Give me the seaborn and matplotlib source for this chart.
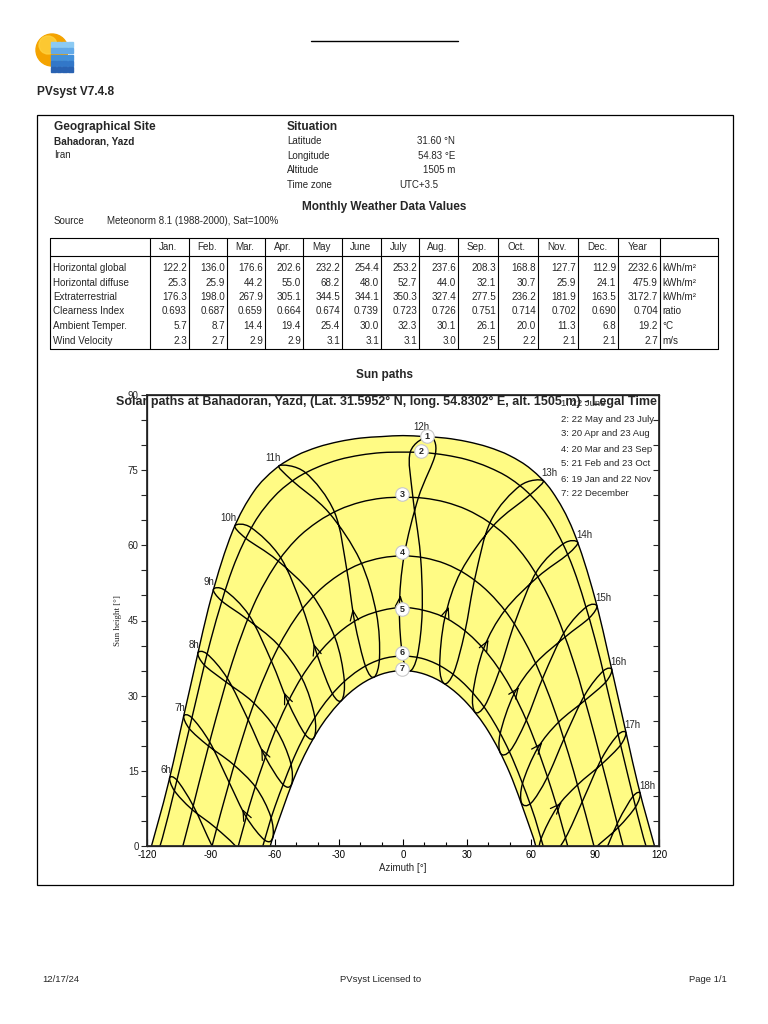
import numpy as np
import matplotlib
matplotlib.use('Agg')
import matplotlib.pyplot as plt
import seaborn as sns
from matplotlib.path import Path
from matplotlib.patches import PathPatch, Circle, Rectangle

# ---- sun path data (azimuth, sun height in degrees) ----
jun22_az = [-117.9, -110, -100, -90, -80, -70, -60, -50, -40, -30, -20, -10, 0,
            10, 20, 30, 40, 50, 60, 70, 80, 90, 100, 110, 117.9]
jun22_alt = [0, 12.5, 31.2, 49.4, 62.7, 70.7, 75.2, 77.9, 79.6, 80.7, 81.4, 81.7, 81.9,
             81.7, 81.4, 80.7, 79.6, 77.9, 75.2, 70.7, 62.7, 49.4, 31.2, 12.5, 0]
may22_az = [-113.9, -110, -100, -90, -80, -70, -60, -50, -40, -30, -20, -10, 0,
            10, 20, 30, 40, 50, 60, 70, 80, 90, 100, 110, 113.9]
may22_alt = [0, 6.1, 23.7, 41.3, 55.2, 64.3, 69.9, 73.4, 75.6, 77.1, 78.0, 78.5, 78.6,
             78.5, 78.0, 77.1, 75.6, 73.4, 69.9, 64.3, 55.2, 41.3, 23.7, 6.1, 0]
apr20_az = [-103.2, -100, -90, -80, -70, -60, -50, -40, -30, -20, -10, 0,
            10, 20, 30, 40, 50, 60, 70, 80, 90, 100, 103.2]
apr20_alt = [0, 5.2, 21.8, 36.7, 48.1, 55.9, 61.2, 64.7, 67.1, 68.6, 69.4, 69.6,
             69.4, 68.6, 67.1, 64.7, 61.2, 55.9, 48.1, 36.7, 21.8, 5.2, 0]
mar20_az = [-89.5, -80, -70, -60, -50, -40, -30, -20, -10, 0,
            10, 20, 30, 40, 50, 60, 70, 80, 89.5]
mar20_alt = [0, 14.9, 28.3, 38.4, 45.7, 50.7, 54.1, 56.3, 57.5, 57.9,
             57.5, 56.3, 54.1, 50.7, 45.7, 38.4, 28.3, 14.9, 0]
feb21_az = [-77.2, -70, -60, -50, -40, -30, -20, -10, 0, 10, 20, 30, 40, 50, 60, 70, 77.2]
feb21_alt = [0, 10.8, 22.9, 31.9, 38.2, 42.6, 45.5, 47.0, 47.6, 47.0, 45.5, 42.6, 38.2, 31.9, 22.9, 10.8, 0]
jan19_az = [-65.7, -60, -50, -40, -30, -20, -10, 0, 10, 20, 30, 40, 50, 60, 65.7]
jan19_alt = [0, 7.9, 18.7, 26.5, 31.8, 35.3, 37.3, 37.9, 37.3, 35.3, 31.8, 26.5, 18.7, 7.9, 0]
dec22_az = [-62.2, -60, -50, -40, -30, -20, -10, 0, 10, 20, 30, 40, 50, 60, 62.2]
dec22_alt = [0, 3.0, 14.6, 22.9, 28.5, 32.2, 34.3, 35.0, 34.3, 32.2, 28.5, 22.9, 14.6, 3.0, 0]

# hour lines: sun position at each legal hour on
# 19 Jan, 21 Feb, 20 Mar, 20 Apr, 22 May, 22 Jun, 23 Jul, 23 Aug, 23 Sep, 23 Oct, 22 Nov, 22 Dec
hours = [6, 7, 8, 9, 10, 11, 12, 13, 14, 15, 16, 17, 18]
h06_az = [-72.4, -81.3, -89.5, -98.3, -105.9, -109.4, -107.1, -99.2, -88.0, -77.3, -70.0, -68.5]
h06_alt = [-10.7, -6.6, 0.0, 8.0, 13.1, 13.6, 11.0, 7.4, 3.7, -0.6, -5.7, -9.8]
h07_az = [-64.9, -73.5, -81.5, -90.7, -99.0, -102.8, -100.1, -91.6, -79.9, -69.0, -62.1, -61.0]
h07_alt = [1.2, 5.8, 12.7, 20.8, 25.6, 25.9, 23.4, 20.1, 16.4, 11.7, 6.0, 1.7]
h08_az = [-56.3, -64.6, -72.6, -82.4, -91.8, -96.2, -93.1, -83.5, -70.6, -59.4, -52.8, -52.2]
h08_alt = [12.3, 17.8, 25.2, 33.5, 38.3, 38.5, 36.1, 32.9, 28.8, 23.2, 16.8, 12.4]
h09_az = [-45.9, -53.9, -61.7, -72.1, -83.4, -88.9, -85.0, -73.5, -58.9, -47.3, -41.5, -41.6]
h09_alt = [22.3, 28.7, 36.9, 46.0, 51.0, 51.2, 48.9, 45.4, 40.3, 33.4, 26.1, 21.7]
h10_az = [-33.1, -40.2, -47.0, -57.3, -71.1, -78.8, -73.7, -59.2, -42.9, -31.9, -27.6, -28.7]
h10_alt = [30.4, 38.1, 47.4, 57.5, 63.5, 63.9, 61.4, 57.1, 50.3, 41.6, 33.4, 29.1]
h11_az = [-17.6, -22.7, -26.3, -32.1, -45.7, -58.1, -51.9, -34.9, -20.1, -12.5, -11.0, -13.5]
h11_alt = [35.9, 44.8, 55.0, 66.6, 74.5, 75.9, 72.9, 66.6, 57.0, 46.5, 37.7, 33.7]
h12_az = [-0.2, -1.7, 0.5, 7.2, 15.2, 12.4, 3.4, 4.5, 8.1, 9.0, 6.8, 3.1]
h12_alt = [37.9, 47.5, 57.9, 69.5, 78.3, 81.7, 78.6, 70.1, 58.4, 46.9, 38.1, 34.9]
h13_az = [17.2, 19.6, 27.2, 42.5, 59.6, 65.7, 54.9, 41.2, 33.9, 29.0, 23.9, 19.4]
h13_alt = [36.0, 45.5, 54.8, 64.0, 70.1, 72.9, 71.9, 64.9, 53.8, 42.7, 34.7, 32.4]
h14_az = [32.8, 37.8, 47.7, 63.2, 77.2, 81.9, 75.1, 62.7, 52.7, 45.1, 38.5, 33.8]
h14_alt = [30.6, 39.4, 47.0, 53.7, 58.2, 60.6, 60.3, 54.8, 44.9, 34.9, 28.1, 26.7]
h15_az = [45.6, 52.0, 62.2, 76.0, 87.3, 90.9, 85.9, 75.8, 65.9, 57.6, 50.4, 45.7]
h15_alt = [22.5, 30.3, 36.5, 41.7, 45.5, 47.9, 47.7, 42.8, 33.9, 24.9, 19.1, 18.5]
h16_az = [56.1, 63.1, 72.9, 85.4, 95.0, 97.9, 93.8, 85.3, 76.0, 67.5, 60.1, 55.6]
h16_alt = [12.6, 19.5, 24.7, 29.1, 32.7, 35.2, 34.9, 30.2, 21.9, 13.6, 8.6, 8.6]
h17_az = [64.7, 72.2, 81.8, 93.3, 101.9, 104.5, 100.8, 93.2, 84.5, 76.0, 68.2, 63.8]
h17_alt = [1.4, 7.7, 12.2, 16.4, 20.1, 22.6, 22.2, 17.5, 9.3, 1.5, -2.9, -2.4]
h18_az = [72.2, 80.1, 89.8, 100.9, 109.0, 111.2, 107.8, 100.8, 92.4, 83.7, 75.5, 71.0]
h18_alt = [-10.4, -4.7, -0.5, 3.7, 7.8, 10.5, 9.9, 4.8, -3.5, -11.1, -15.0, -14.2]

legend_labels = ['1: 22 June', '2: 22 May and 23 July', '3: 20 Apr and 23 Aug', '4: 20 Mar and 23 Sep',
                 '5: 21 Feb and 23 Oct', '6: 19 Jan and 22 Nov', '7: 22 December']
marker_az = [11.2, 8.4, -0.5, -0.5, -0.5, -0.5, -0.5]
marker_alt = [81.8, 78.8, 70.2, 58.6, 47.2, 38.6, 35.4]

# ---- monthly weather table ----
months = ['Jan.', 'Feb.', 'Mar.', 'Apr.', 'May', 'June', 'July', 'Aug.', 'Sep.', 'Oct.', 'Nov.', 'Dec.', 'Year']
row_names = ['Horizontal global', 'Horizontal diffuse', 'Extraterrestrial', 'Clearness Index',
             'Ambient Temper.', 'Wind Velocity']
units = ['kWh/m²', 'kWh/m²', 'kWh/m²', 'ratio', '°C', 'm/s']
glob_hor = [122.2, 136.0, 176.6, 202.6, 232.2, 254.4, 253.2, 237.6, 208.3, 168.8, 127.7, 112.9, 2232.6]
diff_hor = [25.3, 25.9, 44.2, 55.0, 68.2, 48.0, 52.7, 44.0, 32.1, 30.7, 25.9, 24.1, 475.9]
extra = [176.3, 198.0, 267.9, 305.1, 344.5, 344.1, 350.3, 327.4, 277.5, 236.2, 181.9, 163.5, 3172.7]
clearness = [0.693, 0.687, 0.659, 0.664, 0.674, 0.739, 0.723, 0.726, 0.751, 0.714, 0.702, 0.690, 0.704]
temp = [5.7, 8.7, 14.4, 19.4, 25.4, 30.0, 32.3, 30.1, 26.1, 20.0, 11.3, 6.8, 19.2]
wind = [2.3, 2.7, 2.9, 2.9, 3.1, 3.1, 3.1, 3.0, 2.5, 2.2, 2.1, 2.1, 2.7]

date_paths = [(jun22_az, jun22_alt), (may22_az, may22_alt), (apr20_az, apr20_alt), (mar20_az, mar20_alt),
              (feb21_az, feb21_alt), (jan19_az, jan19_alt), (dec22_az, dec22_alt)]
hour_lines = [(h06_az, h06_alt), (h07_az, h07_alt), (h08_az, h08_alt), (h09_az, h09_alt),
              (h10_az, h10_alt), (h11_az, h11_alt), (h12_az, h12_alt), (h13_az, h13_alt),
              (h14_az, h14_alt), (h15_az, h15_alt), (h16_az, h16_alt), (h17_az, h17_alt),
              (h18_az, h18_alt)]


def smooth(xs, ys, closed=False):
    # smooth bezier path through the points (catmull-rom)
    P = np.column_stack([xs, ys]).astype(float)
    n = len(P)
    verts = [P[0]]
    codes = [Path.MOVETO]
    segs = n if closed else n - 1
    for i in range(segs):
        p0 = P[(i - 1) % n] if (closed or i > 0) else P[0]
        p1 = P[i % n]
        p2 = P[(i + 1) % n]
        p3 = P[(i + 2) % n] if (closed or i + 2 < n) else P[-1]
        verts += [p1 + (p2 - p0) / 6, p2 - (p3 - p1) / 6, p2]
        codes += [Path.CURVE4] * 3
    return verts, codes


sns.set_theme(style='white')
plt.rcParams['font.family'] = ['Liberation Sans', 'DejaVu Sans']
plt.rcParams['axes.unicode_minus'] = False

fig = plt.figure(figsize=(7.68, 10.24), dpi=100)
page = fig.add_axes([0, 0, 1, 1])
page.set_xlim(0, 768)
page.set_ylim(1024, 0)
page.axis('off')


def T(x, y, s, **kw):
    kw.setdefault('va', 'center')
    kw.setdefault('fontsize', 7)
    fig.text(x, y, s, transform=page.transData, **kw)


# ---- sun path chart ----
ax = fig.add_axes([147 / 768, 1 - 846 / 1024, 512 / 768, 451 / 1024])
ax.set_facecolor('none')

yellow = '#fffb84'
v1, c1 = smooth(jun22_az, jun22_alt)
v2, c2 = smooth(dec22_az[::-1], dec22_alt[::-1])
verts = v1 + [(dec22_az[-1], 0)] + v2[1:] + [(0, 0)]
codes = c1 + [Path.LINETO] + c2[1:] + [Path.CLOSEPOLY]
ax.add_patch(PathPatch(Path(verts, codes), facecolor=yellow, edgecolor='none', zorder=1))

for az, alt in date_paths:
    v, c = smooth(az, alt)
    ax.add_patch(PathPatch(Path(v, c), facecolor='none', edgecolor='black', lw=1.0, zorder=3))

for (az, alt), h in zip(hour_lines, hours):
    v, c = smooth(az, alt, closed=True)
    ax.add_patch(PathPatch(Path(v, c), facecolor='none', edgecolor='black', lw=1.0, zorder=3))
    # direction arrow on the Feb -> Mar branch
    p1 = np.array([az[1], alt[1]])
    p2 = np.array([az[2], alt[2]])
    tail = p1 + 0.1 * (p2 - p1)
    tip = p1 + 0.3 * (p2 - p1)
    if tip[1] > 1.5:
        ax.annotate('', xy=tip, xytext=tail,
                    arrowprops=dict(arrowstyle='->,head_length=0.6,head_width=0.25', lw=0.9, color='black'),
                    zorder=4)
    if h < 12:
        ax.annotate(f'{h}h', (az[5], alt[5]), xytext=(1, 2), textcoords='offset points',
                    ha='right', va='bottom', fontsize=7)
    elif h == 12:
        ax.annotate(f'{h}h', (az[5], alt[5]), xytext=(-6, 3), textcoords='offset points',
                    ha='center', va='bottom', fontsize=7)
    else:
        ax.annotate(f'{h}h', (az[5], alt[5]), xytext=(-1, 2), textcoords='offset points',
                    ha='left', va='bottom', fontsize=7)

sns.scatterplot(x=marker_az, y=marker_alt, ax=ax, s=95, color='white', edgecolor='#c8c8c8',
                linewidth=0.8, zorder=6, legend=False)
for i, (a, b) in enumerate(zip(marker_az, marker_alt)):
    ax.text(a, b, str(i + 1), ha='center', va='center', fontsize=6.5, fontweight='bold', zorder=7)

ax.set_xlim(-120, 120)
ax.set_ylim(0, 90)
ax.set_xticks(range(-120, 121, 30))
ax.set_xticks(range(-120, 121, 10), minor=True)
ax.set_yticks(range(0, 91, 15))
ax.set_yticks(range(0, 91, 5), minor=True)
ax.tick_params(axis='x', which='both', direction='in', bottom=True, labelsize=7, pad=3, colors='black')
ax.tick_params(axis='x', which='major', length=5, width=0.8)
ax.tick_params(axis='x', which='minor', length=3, width=0.8)
ax.tick_params(axis='y', which='both', direction='out', left=True, labelsize=7, pad=2, length=4, width=0.8)
for s in ax.spines.values():
    s.set_color('black')
    s.set_linewidth(0.9)
ax2 = ax.twinx()
ax2.set_ylim(0, 90)
ax2.set_yticks(range(0, 91, 5))
ax2.tick_params(axis='y', direction='in', right=True, labelright=False, length=4, width=0.8)
ax2.grid(False)
ax.grid(False)
ax.set_xlabel('Azimuth [°]', fontsize=7, labelpad=2)
ax.set_ylabel('Sun height [°]', fontsize=6.5, family='Liberation Serif', labelpad=4)

T(386, 402, 'Solar paths at Bahadoran, Yazd, (Lat. 31.5952° N, long. 54.8302° E, alt. 1505 m) - Legal Time',
  ha='center', fontsize=9, fontweight='bold')
for i, s in enumerate(legend_labels):
    T(561, 404 + 15 * i, s, fontsize=6.8)

# ---- header / logo ----
page.add_patch(Circle((52, 50), 16, color='#f4a300', zorder=2))
page.add_patch(Circle((48, 45), 9, color='#ffd23f', zorder=2, alpha=0.8))
blues = ['#8ccaf3', '#62a9e8', '#4390da', '#3277c8', '#2962b2']
for r in range(5):
    for c in range(4):
        page.add_patch(Rectangle((51 + c * 5.7, 42 + r * 6.3), 4.5, 5.0, color=blues[r], zorder=3))
T(37, 92, 'PVsyst V7.4.8', fontsize=8.6, fontweight='bold')
page.plot([311, 458], [41, 41], color='black', lw=1)
page.add_patch(Rectangle((37, 115), 696, 770, fill=False, edgecolor='black', lw=0.9))

T(54, 127, 'Geographical Site', fontsize=8.6, fontweight='bold')
T(54, 141, 'Bahadoran, Yazd', fontsize=7.2, fontweight='bold')
T(54, 155, 'Iran')
T(287, 127, 'Situation', fontsize=8.6, fontweight='bold')
sit_labels = ['Latitude', 'Longitude', 'Altitude', 'Time zone']
sit_values = ['31.60 °N', '54.83 °E', '1505 m', 'UTC+3.5']
for i, (l, v) in enumerate(zip(sit_labels, sit_values)):
    y = 141 + 14.6 * i
    T(287, y, l)
    T(455 if i < 3 else 438, y, v, ha='right')
T(384, 207, 'Monthly Weather Data Values', ha='center', fontsize=8.5, fontweight='bold')
T(54, 221, 'Source')
T(107, 221, 'Meteonorm 8.1 (1988-2000), Sat=100%')

rows = [glob_hor, diff_hor, extra, clearness, temp, wind]
fmts = ['{:.1f}', '{:.1f}', '{:.1f}', '{:.3f}', '{:.1f}', '{:.1f}']
edges = [50, 150, 189, 227, 265, 303, 342, 381, 419, 458, 498, 538, 578, 618, 660, 718]
top, hdr, bot = 238, 256, 349
for x in edges:
    page.plot([x, x], [top, bot], color='black', lw=0.8)
for y in (top, hdr, bot):
    page.plot([edges[0], edges[-1]], [y, y], color='black', lw=0.8)
for j, m in enumerate(months):
    T((edges[j + 1] + edges[j + 2]) / 2 - 1, 247, m, ha='center', fontsize=7.1)
for i, (name, vals, u, f) in enumerate(zip(row_names, rows, units, fmts)):
    y = 268 + 14.5 * i
    T(53, y, name, fontsize=7.1)
    for j, v in enumerate(vals):
        T(edges[j + 2] - 2, y, f.format(v), ha='right', fontsize=7.1)
    T(662, y, u, fontsize=7.1)

T(384, 375, 'Sun paths', ha='center', fontsize=8.5, fontweight='bold')

# ---- footer ----
T(42, 979, '12/17/24', fontsize=6.8)
T(381, 979, 'PVsyst Licensed to', ha='center', fontsize=6.8)
T(727, 979, 'Page 1/1', ha='right', fontsize=6.8)

fig.savefig('out.png', dpi=100)
